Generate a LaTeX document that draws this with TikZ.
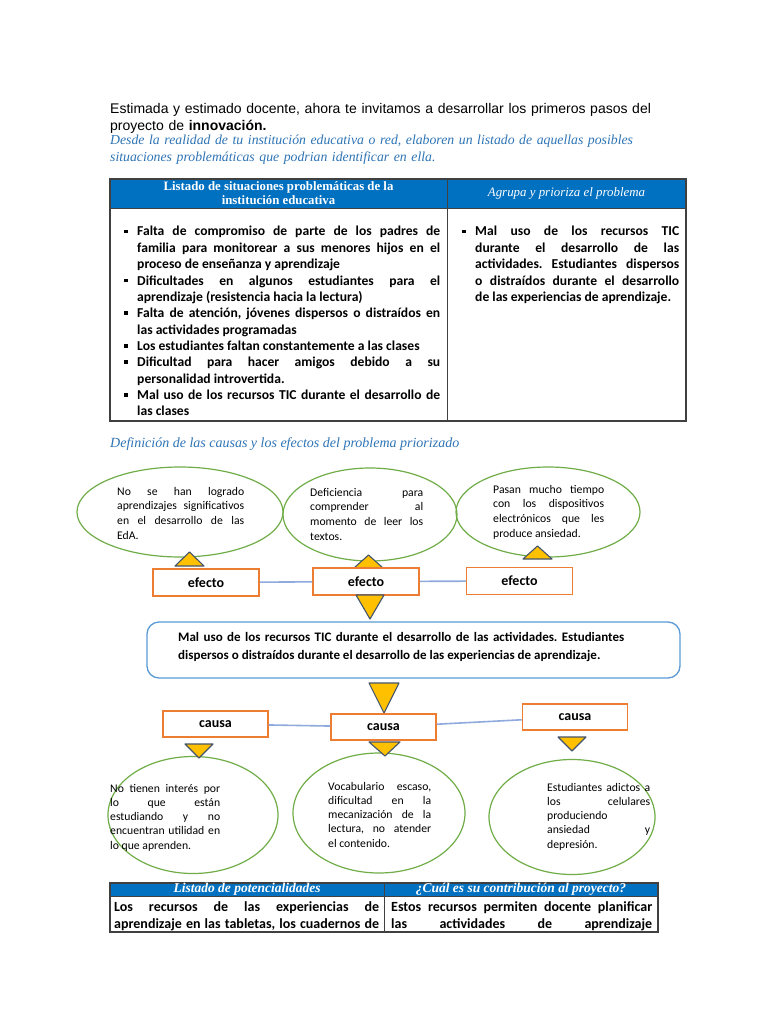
\documentclass[tikz,border=0pt]{standalone}
\usepackage{fontspec}
\setmainfont{Liberation Serif}
\newfontfamily\carlito{Carlito}
\newfontfamily\arialfont{Liberation Sans}
\usetikzlibrary{shapes.geometric,positioning}
\definecolor{hblue}{HTML}{0070C0}
\definecolor{tblue}{HTML}{2E74B5}
\definecolor{rulegrey}{HTML}{404040}
\definecolor{egreen}{HTML}{70AD47}
\definecolor{borange}{HTML}{ED7D31}
\definecolor{tgold}{HTML}{FFC000}
\definecolor{tslate}{HTML}{44546A}
\definecolor{pblue}{HTML}{5B9BD5}
\definecolor{lgrey}{HTML}{8FAADC}
\tolerance=10000
\hbadness=10000
\hyphenpenalty=10000
\frenchspacing
\newcommand{\sqmark}{\makebox[13pt][l]{\raisebox{2.8pt}{\rule{3.6pt}{3.6pt}}}}
\newcommand{\bitem}{\hangindent=13pt\hangafter=1\sqmark}

\begin{document}
\begin{tikzpicture}[x=1pt, y=-1pt,
  frame/.style={draw=rulegrey, line width=1.5pt},
  grid/.style={draw=rulegrey, line width=0.9pt},
  head/.style={text=white, align=center, inner sep=0pt},
  cell/.style={anchor=base west, inner sep=0pt, align=justify,
    font=\carlito\bfseries\fontsize{13.6}{16.36}\selectfont},
  bubble/.style={ellipse, draw=egreen, line width=1.2pt, inner sep=0pt},
  bubble text/.style={anchor=base west, inner sep=0pt, align=justify,
    font=\carlito\fontsize{11.7}{14.7}\selectfont},
  tag/.style={draw=borange, line width=1.5pt, fill=white, inner sep=0pt,
    minimum width=106pt, minimum height=27pt,
    font=\carlito\bfseries\fontsize{14}{16}\selectfont},
  tri/.style={fill=tgold, draw=tslate, line width=1.1pt, line join=round},
  link/.style={draw=lgrey, line width=1.6pt},
  note/.style={anchor=base west, inner sep=0pt, text=tblue,
    font=\itshape\fontsize{14}{16.5}\selectfont}
]
\fill[white] (0,0) rectangle (768,1024);

\node[anchor=base west, inner sep=0pt, text width=600pt, align=left,
  font=\arialfont\fontsize{14}{17}\selectfont] (intro) at (110,114)
  {Estimada y estimado docente, ahora te invitamos a desarrollar los primeros pasos del\\
   proyecto de \textbf{innovación.}};
\node[note, text width=600pt, align=left, font=\itshape\fontsize{13.75}{16.5}\selectfont]
  (task) at (110,145)
  {Desde la realidad de tu institución educativa o red, elaboren un listado de aquellas posibles\\
   situaciones problemáticas que podrian identificar en ella.};

% tabla de situaciones
\fill[hblue] (110,179) rectangle (686,208);
\draw[frame] (110,179) rectangle (686,421);
\draw[grid] (110,208) -- (686,208) (447,179) -- (447,421);
\node[head, font=\bfseries\fontsize{12.8}{14}\selectfont] (headList) at (278.5,193.5)
  {Listado de situaciones problemáticas de la\\institución educativa};
\node[head, font=\itshape\fontsize{12.9}{16}\selectfont] (headGroup) at (566.5,193.5)
  {Agrupa y prioriza el problema};

\node[cell, text width=316pt] (situations) at (124,236) {%
  \bitem Falta de compromiso de parte de los padres de\linebreak
  familia para monitorear a sus menores hijos en el\linebreak
  proceso de enseñanza y aprendizaje\par
  \bitem Dificultades en algunos estudiantes para el\linebreak
  aprendizaje (resistencia hacia la lectura)\par
  \bitem Falta de atención, jóvenes dispersos o distraídos en\linebreak
  las actividades programadas\par
  \bitem Los estudiantes faltan constantemente a las clases\par
  \bitem Dificultad para hacer amigos debido a su\linebreak
  personalidad introvertida.\par
  \bitem Mal uso de los recursos TIC durante el desarrollo de\linebreak
  las clases\par};
\node[cell, text width=217pt] (priority) at (462,236) {%
  \bitem Mal uso de los recursos TIC\linebreak
  durante el desarrollo de las\linebreak
  actividades. Estudiantes dispersos\linebreak
  o distraídos durante el desarrollo\linebreak
  de las experiencias de aprendizaje.\par};

\node[note] (causes) at (110,447)
  {Definición de las causas y los efectos del problema priorizado};

% efectos
\node[bubble, minimum width=206pt, minimum height=90pt] (effA) at (180,512) {};
\node[bubble, minimum width=174pt, minimum height=93pt] (effB) at (370,514.5) {};
\node[bubble, minimum width=184pt, minimum height=90pt] (effC) at (548,512) {};
\node[bubble text, text width=127pt] (effAtext) at (117,495)
  {No se han logrado\linebreak aprendizajes significativos\linebreak
   en el desarrollo de las\linebreak EdA.};
\node[bubble text, text width=113pt] (effBtext) at (310,496)
  {Deficiencia para\linebreak comprender al\linebreak
   momento de leer los\linebreak textos.};
\node[bubble text, text width=111pt] (effCtext) at (493,493)
  {Pasan mucho tiempo\linebreak con los dispositivos\linebreak
   electrónicos que les\linebreak produce ansiedad.};

\draw[tri] (175,566) -- (189.5,552) -- (204,566) -- cycle;
\draw[tri] (354,568) -- (368.5,555) -- (383,568) -- cycle;
\draw[tri] (523,559) -- (537.5,546) -- (552,559) -- cycle;

\node[tag] (effectA) at (206,582.5) {efecto};
\node[tag] (effectB) at (366,581.5) {efecto};
\node[tag] (effectC) at (519.5,581) {efecto};
\draw[link] (effectA) -- (effectB);
\draw[link] (effectB) -- (effectC);

\draw[tri] (356,595) -- (384,595) -- (370,619) -- cycle;

% problema priorizado
\node[draw=pblue, line width=1.3pt, rounded corners=12pt, minimum width=533pt,
  minimum height=56pt, inner sep=0pt] (problem) at (413.5,650) {};
\node[anchor=base west, inner sep=0pt, text width=446pt, align=justify,
  font=\carlito\bfseries\fontsize{13}{18}\selectfont] (problemText) at (178,641)
  {\parfillskip=0pt Mal uso de los recursos TIC durante el desarrollo de las actividades. Estudiantes\linebreak
   dispersos o distraídos durante el desarrollo de las experiencias de aprendizaje.};

\draw[tri] (369,683) -- (399,683) -- (384,713) -- cycle;

% causas
\node[tag, minimum width=105pt, minimum height=26pt] (causeA) at (215.5,724) {causa};
\node[tag, minimum width=105pt, minimum height=26pt] (causeB) at (383.5,727) {causa};
\node[tag, minimum width=105pt, minimum height=26pt] (causeC) at (575,717) {causa};
\draw[link] (causeA) -- (causeB);
\draw[link] (causeB) -- (causeC);

\node[bubble, minimum width=170pt, minimum height=117pt] (rootA) at (193,815) {};
\node[bubble, minimum width=172pt, minimum height=120pt] (rootB) at (379,813) {};
\node[bubble, minimum width=166pt, minimum height=115pt] (rootC) at (572,817) {};

\draw[tri] (185,744) -- (213,744) -- (199,758) -- cycle;
\draw[tri] (369,742) -- (400,742) -- (385,756) -- cycle;
\draw[tri] (558,737) -- (586,737) -- (572,751) -- cycle;

\node[bubble text, text width=110pt, font=\carlito\fontsize{11.7}{14.3}\selectfont]
  (rootAtext) at (110,792)
  {No tienen interés por\linebreak lo que están\linebreak estudiando y no\linebreak
   encuentran utilidad en\linebreak lo que aprenden.};
\node[bubble text, text width=103pt, font=\carlito\fontsize{11.7}{14.3}\selectfont]
  (rootBtext) at (328,790)
  {Vocabulario escaso,\linebreak dificultad en la\linebreak mecanización de la\linebreak
   lectura, no atender\linebreak el contenido.};
\node[bubble text, text width=103pt, font=\carlito\fontsize{11.7}{14.3}\selectfont]
  (rootCtext) at (547,791)
  {Estudiantes adictos a\linebreak los celulares\linebreak produciendo\linebreak
   ansiedad y\linebreak depresión.};

% tabla de potencialidades
\fill[hblue] (110,883) rectangle (658,896);
\draw[frame] (110,883) rectangle (658,932);
\draw[grid] (110,896) -- (658,896) (384,883) -- (384,932);
\node[head, font=\bfseries\itshape\fontsize{13.5}{14}\selectfont] (headAssets) at (247,889.5)
  {Listado de potencialidades};
\node[head, font=\bfseries\itshape\fontsize{13.5}{14}\selectfont] (headContribution) at (521,889.5)
  {¿Cuál es su contribución al proyecto?};
\node[cell, text width=265pt, font=\carlito\bfseries\fontsize{14}{17}\selectfont] (assets) at (114,911)
  {Los recursos de las experiencias de\linebreak
   aprendizaje en las tabletas, los cuadernos de\linebreak\mbox{}};
\node[cell, text width=261pt, font=\carlito\bfseries\fontsize{14}{17}\selectfont] (contribution) at (391,911)
  {Estos recursos permiten docente planificar\linebreak
   las actividades de aprendizaje\linebreak\mbox{}};

\end{tikzpicture}
\end{document}
